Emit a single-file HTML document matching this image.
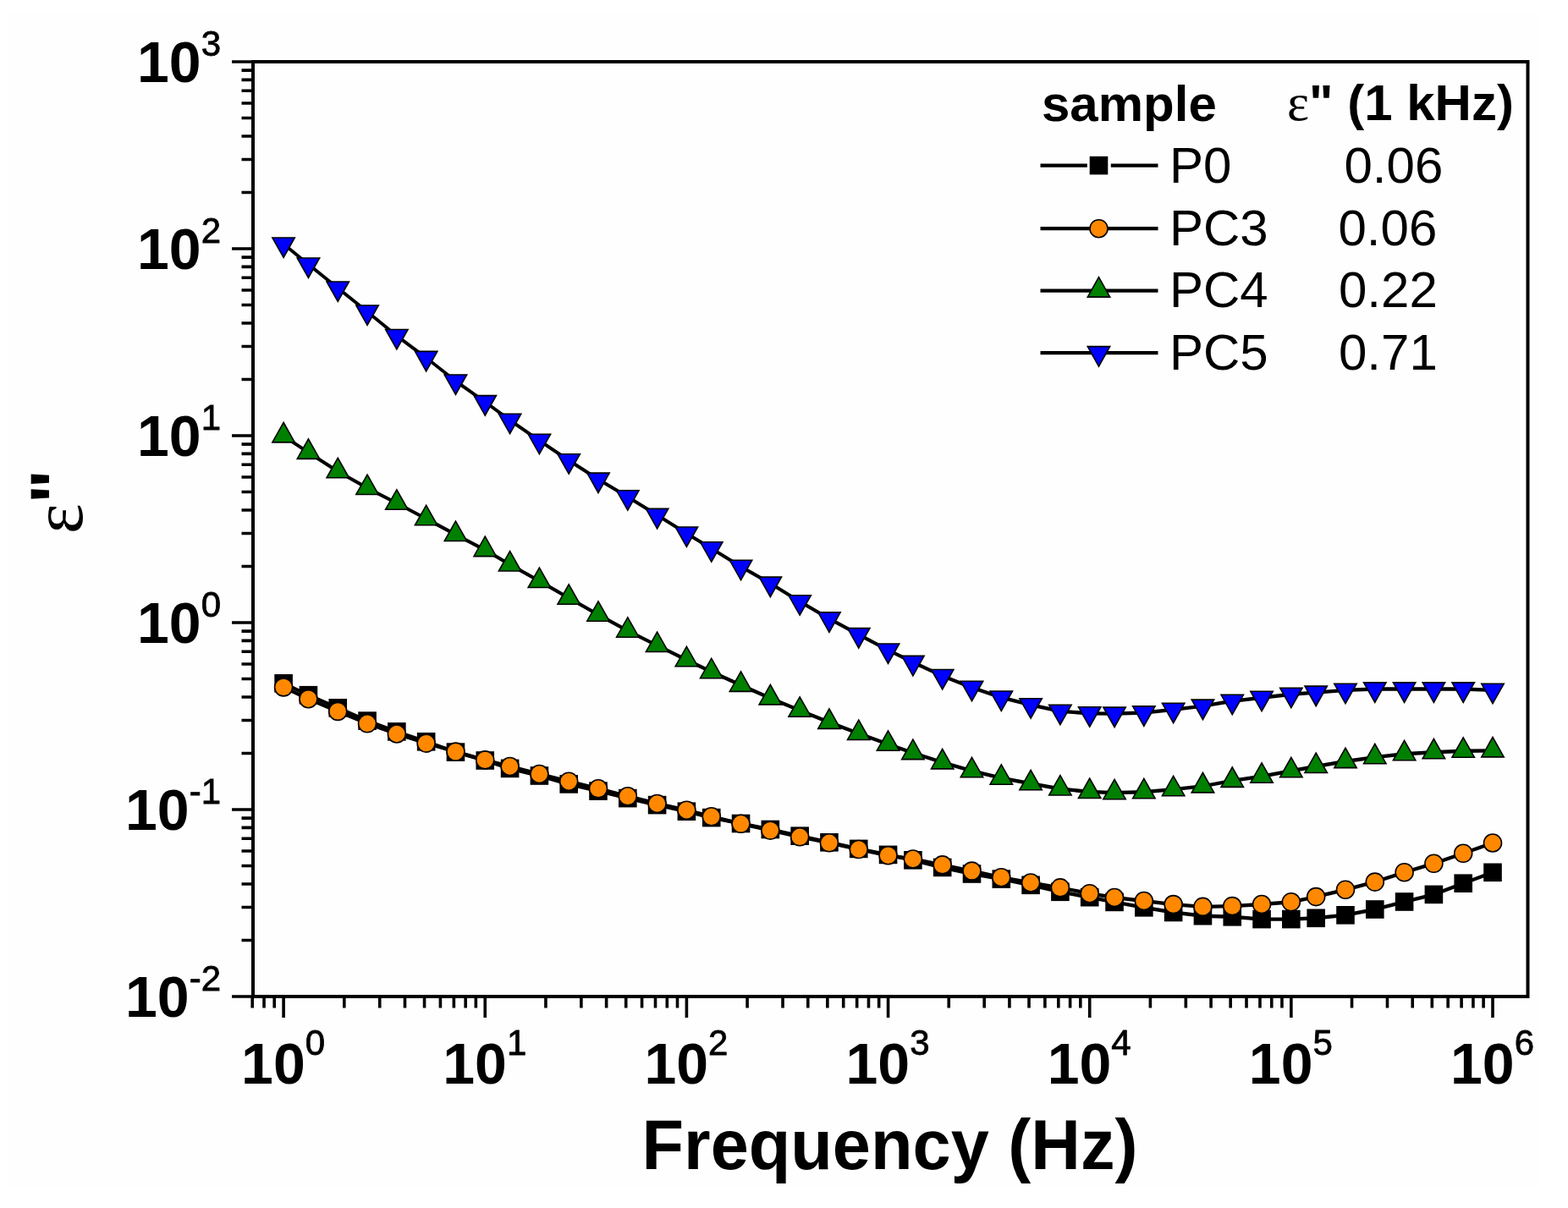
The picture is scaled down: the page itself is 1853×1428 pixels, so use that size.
<!DOCTYPE html>
<html><head><meta charset="utf-8"><title>Dielectric loss vs frequency</title>
<style>html,body{margin:0;padding:0;background:#fff;}body{width:1853px;height:1428px;overflow:hidden;}svg{display:block;}text{font-family:"Liberation Sans",Arial,sans-serif;fill:#000;}.b{font-weight:bold;}.sup{stroke:#000;stroke-width:0.8px;}.serif{font-family:"Liberation Serif","Times New Roman",serif;}</style>
</head><body>
<svg width="1853" height="1428" viewBox="0 0 1853 1428">
<rect x="0" y="0" width="1853" height="1428" fill="#fff"/>
<rect x="10" y="16" width="1807" height="1386" fill="#fefefe"/>
<g id="p0">
<path fill="#000" d="M335.1,805.49L364.45,819.39L364.45,824.01L335.1,810.11ZM364.45,819.4L399.25,834.5L399.25,839.1L364.45,824ZM399.25,834.5L434.05,849.8L434.05,854.4L399.25,839.1ZM434.05,849.83L468.85,862.63L468.85,867.17L434.05,854.37ZM468.85,862.64L503.65,874.54L503.65,879.06L468.85,867.16ZM503.65,874.53L538.45,886.83L538.45,891.37L503.65,879.07ZM538.45,886.86L573.25,896.76L573.25,901.24L538.45,891.34ZM573.25,896.75L602.6,906.15L602.6,910.65L573.25,901.25ZM602.6,906.17L637.4,914.77L637.4,919.23L602.6,910.63ZM637.4,914.76L672.2,924.66L672.2,929.14L637.4,919.24ZM672.2,924.67L707,932.87L707,937.33L672.2,929.13ZM707,932.87L741.8,941.37L741.8,945.83L707,937.33ZM741.8,941.37L776.6,949.37L776.6,953.83L741.8,945.83ZM776.6,949.37L811.4,956.97L811.4,961.43L776.6,953.83ZM811.4,956.97L840.75,964.37L840.75,968.83L811.4,961.43ZM840.75,964.38L875.55,971.28L875.55,975.72L840.75,968.82ZM875.55,971.28L910.35,978.28L910.35,982.72L875.55,975.72ZM910.35,978.27L945.15,985.97L945.15,990.43L910.35,982.73ZM945.15,985.97L979.95,993.57L979.95,998.03L945.15,990.43ZM979.95,993.57L1014.75,1001.17L1014.75,1005.63L979.95,998.03ZM1014.75,1001.18L1049.55,1008.18L1049.55,1012.62L1014.75,1005.62ZM1049.55,1008.17L1078.9,1014.57L1078.9,1019.03L1049.55,1012.63ZM1078.9,1014.57L1113.7,1023.17L1113.7,1027.63L1078.9,1019.03ZM1113.7,1023.17L1148.5,1030.77L1148.5,1035.23L1113.7,1027.63ZM1148.5,1030.78L1183.3,1036.88L1183.3,1041.32L1148.5,1035.22ZM1183.3,1036.88L1218.1,1044.08L1218.1,1048.52L1183.3,1041.32ZM1218.1,1044.07L1252.9,1052.07L1252.9,1056.53L1218.1,1048.53ZM1252.9,1052.08L1287.7,1058.48L1287.7,1062.92L1252.9,1056.52ZM1287.7,1058.48L1317.05,1064.18L1317.05,1068.62L1287.7,1062.92ZM1317.05,1064.18L1351.85,1070.58L1351.85,1075.02L1317.05,1068.62ZM1351.85,1070.59L1386.65,1076.29L1386.65,1080.71L1351.85,1075.01ZM1386.65,1076.29L1421.45,1080.49L1421.45,1084.91L1386.65,1080.71ZM1421.45,1080.5L1456.25,1081.6L1456.25,1086L1421.45,1084.9ZM1456.25,1081.6L1491.05,1084.4L1491.05,1088.8L1456.25,1086ZM1491.05,1084.4L1525.85,1084.4L1525.85,1088.8L1491.05,1088.8ZM1525.85,1084.4L1555.2,1083.1L1555.2,1087.5L1525.85,1088.8ZM1555.2,1083.09L1590,1079.59L1590,1084.01L1555.2,1087.51ZM1590,1079.58L1624.8,1072.78L1624.8,1077.22L1590,1084.02ZM1624.8,1072.76L1659.6,1063.76L1659.6,1068.24L1624.8,1077.24ZM1659.6,1063.77L1694.4,1055.17L1694.4,1059.63L1659.6,1068.23ZM1694.4,1055.12L1729.2,1041.92L1729.2,1046.48L1694.4,1059.68ZM1729.2,1041.93L1764,1029.03L1764,1033.57L1729.2,1046.47Z"/>
<rect x="325.1" y="797.8" width="20" height="20" fill="#000" stroke="#000" stroke-width="1.6"/>
<rect x="354.45" y="811.7" width="20" height="20" fill="#000" stroke="#000" stroke-width="1.6"/>
<rect x="389.25" y="826.8" width="20" height="20" fill="#000" stroke="#000" stroke-width="1.6"/>
<rect x="424.05" y="842.1" width="20" height="20" fill="#000" stroke="#000" stroke-width="1.6"/>
<rect x="458.85" y="854.9" width="20" height="20" fill="#000" stroke="#000" stroke-width="1.6"/>
<rect x="493.65" y="866.8" width="20" height="20" fill="#000" stroke="#000" stroke-width="1.6"/>
<rect x="528.45" y="879.1" width="20" height="20" fill="#000" stroke="#000" stroke-width="1.6"/>
<rect x="563.25" y="889" width="20" height="20" fill="#000" stroke="#000" stroke-width="1.6"/>
<rect x="592.6" y="898.4" width="20" height="20" fill="#000" stroke="#000" stroke-width="1.6"/>
<rect x="627.4" y="907" width="20" height="20" fill="#000" stroke="#000" stroke-width="1.6"/>
<rect x="662.2" y="916.9" width="20" height="20" fill="#000" stroke="#000" stroke-width="1.6"/>
<rect x="697" y="925.1" width="20" height="20" fill="#000" stroke="#000" stroke-width="1.6"/>
<rect x="731.8" y="933.6" width="20" height="20" fill="#000" stroke="#000" stroke-width="1.6"/>
<rect x="766.6" y="941.6" width="20" height="20" fill="#000" stroke="#000" stroke-width="1.6"/>
<rect x="801.4" y="949.2" width="20" height="20" fill="#000" stroke="#000" stroke-width="1.6"/>
<rect x="830.75" y="956.6" width="20" height="20" fill="#000" stroke="#000" stroke-width="1.6"/>
<rect x="865.55" y="963.5" width="20" height="20" fill="#000" stroke="#000" stroke-width="1.6"/>
<rect x="900.35" y="970.5" width="20" height="20" fill="#000" stroke="#000" stroke-width="1.6"/>
<rect x="935.15" y="978.2" width="20" height="20" fill="#000" stroke="#000" stroke-width="1.6"/>
<rect x="969.95" y="985.8" width="20" height="20" fill="#000" stroke="#000" stroke-width="1.6"/>
<rect x="1004.75" y="993.4" width="20" height="20" fill="#000" stroke="#000" stroke-width="1.6"/>
<rect x="1039.55" y="1000.4" width="20" height="20" fill="#000" stroke="#000" stroke-width="1.6"/>
<rect x="1068.9" y="1006.8" width="20" height="20" fill="#000" stroke="#000" stroke-width="1.6"/>
<rect x="1103.7" y="1015.4" width="20" height="20" fill="#000" stroke="#000" stroke-width="1.6"/>
<rect x="1138.5" y="1023" width="20" height="20" fill="#000" stroke="#000" stroke-width="1.6"/>
<rect x="1173.3" y="1029.1" width="20" height="20" fill="#000" stroke="#000" stroke-width="1.6"/>
<rect x="1208.1" y="1036.3" width="20" height="20" fill="#000" stroke="#000" stroke-width="1.6"/>
<rect x="1242.9" y="1044.3" width="20" height="20" fill="#000" stroke="#000" stroke-width="1.6"/>
<rect x="1277.7" y="1050.7" width="20" height="20" fill="#000" stroke="#000" stroke-width="1.6"/>
<rect x="1307.05" y="1056.4" width="20" height="20" fill="#000" stroke="#000" stroke-width="1.6"/>
<rect x="1341.85" y="1062.8" width="20" height="20" fill="#000" stroke="#000" stroke-width="1.6"/>
<rect x="1376.65" y="1068.5" width="20" height="20" fill="#000" stroke="#000" stroke-width="1.6"/>
<rect x="1411.45" y="1072.7" width="20" height="20" fill="#000" stroke="#000" stroke-width="1.6"/>
<rect x="1446.25" y="1073.8" width="20" height="20" fill="#000" stroke="#000" stroke-width="1.6"/>
<rect x="1481.05" y="1076.6" width="20" height="20" fill="#000" stroke="#000" stroke-width="1.6"/>
<rect x="1515.85" y="1076.6" width="20" height="20" fill="#000" stroke="#000" stroke-width="1.6"/>
<rect x="1545.2" y="1075.3" width="20" height="20" fill="#000" stroke="#000" stroke-width="1.6"/>
<rect x="1580" y="1071.8" width="20" height="20" fill="#000" stroke="#000" stroke-width="1.6"/>
<rect x="1614.8" y="1065" width="20" height="20" fill="#000" stroke="#000" stroke-width="1.6"/>
<rect x="1649.6" y="1056" width="20" height="20" fill="#000" stroke="#000" stroke-width="1.6"/>
<rect x="1684.4" y="1047.4" width="20" height="20" fill="#000" stroke="#000" stroke-width="1.6"/>
<rect x="1719.2" y="1034.2" width="20" height="20" fill="#000" stroke="#000" stroke-width="1.6"/>
<rect x="1754" y="1021.3" width="20" height="20" fill="#000" stroke="#000" stroke-width="1.6"/>
</g>
<g id="pc3">
<path fill="#000" d="M335.1,810.09L364.45,823.89L364.45,828.51L335.1,814.71ZM364.45,823.91L399.25,838.61L399.25,843.19L364.45,828.49ZM399.25,838.61L434.05,853.01L434.05,857.59L399.25,843.19ZM434.05,853.04L468.85,865.24L468.85,869.76L434.05,857.56ZM468.85,865.25L503.65,876.35L503.65,880.85L468.85,869.75ZM503.65,876.36L538.45,886.36L538.45,890.84L503.65,880.84ZM538.45,886.36L573.25,896.16L573.25,900.64L538.45,890.84ZM573.25,896.16L602.6,903.76L602.6,908.24L573.25,900.64ZM602.6,903.76L637.4,912.76L637.4,917.24L602.6,908.24ZM637.4,912.77L672.2,921.47L672.2,925.93L637.4,917.23ZM672.2,921.47L707,930.07L707,934.53L672.2,925.93ZM707,930.06L741.8,939.06L741.8,943.54L707,934.54ZM741.8,939.07L776.6,947.77L776.6,952.23L741.8,943.53ZM776.6,947.77L811.4,955.47L811.4,959.93L776.6,952.23ZM811.4,955.46L840.75,963.06L840.75,967.54L811.4,959.94ZM840.75,963.07L875.55,971.57L875.55,976.03L840.75,967.53ZM875.55,971.57L910.35,979.37L910.35,983.83L875.55,976.03ZM910.35,979.37L945.15,987.07L945.15,991.53L910.35,983.83ZM945.15,987.08L979.95,994.08L979.95,998.52L945.15,991.52ZM979.95,994.07L1014.75,1001.77L1014.75,1006.23L979.95,998.53ZM1014.75,1001.78L1049.55,1008.98L1049.55,1013.42L1014.75,1006.22ZM1049.55,1008.99L1078.9,1013.29L1078.9,1017.71L1049.55,1013.41ZM1078.9,1013.28L1113.7,1020.18L1113.7,1024.62L1078.9,1017.72ZM1113.7,1020.18L1148.5,1027.38L1148.5,1031.82L1113.7,1024.62ZM1148.5,1027.37L1183.3,1034.97L1183.3,1039.43L1148.5,1031.83ZM1183.3,1034.98L1218.1,1041.28L1218.1,1045.72L1183.3,1039.42ZM1218.1,1041.28L1252.9,1047.18L1252.9,1051.62L1218.1,1045.72ZM1252.9,1047.18L1287.7,1053.98L1287.7,1058.42L1252.9,1051.62ZM1287.7,1053.99L1317.05,1058.79L1317.05,1063.21L1287.7,1058.41ZM1317.05,1058.79L1351.85,1062.79L1351.85,1067.21L1317.05,1063.21ZM1351.85,1062.79L1386.65,1066.89L1386.65,1071.31L1351.85,1067.21ZM1386.65,1066.9L1421.45,1069.7L1421.45,1074.1L1386.65,1071.3ZM1421.45,1069.7L1456.25,1068.9L1456.25,1073.3L1421.45,1074.1ZM1456.25,1068.9L1491.05,1066.8L1491.05,1071.2L1456.25,1073.3ZM1491.05,1066.8L1525.85,1064.1L1525.85,1068.5L1491.05,1071.2ZM1525.85,1064.08L1555.2,1057.88L1555.2,1062.32L1525.85,1068.52ZM1555.2,1057.87L1590,1049.47L1590,1053.93L1555.2,1062.33ZM1590,1049.46L1624.8,1040.36L1624.8,1044.84L1590,1053.94ZM1624.8,1040.34L1659.6,1028.94L1659.6,1033.46L1624.8,1044.86ZM1659.6,1028.95L1694.4,1018.55L1694.4,1023.05L1659.6,1033.45ZM1694.4,1018.54L1729.2,1006.54L1729.2,1011.06L1694.4,1023.06ZM1729.2,1006.53L1764,994.23L1764,998.77L1729.2,1011.07Z"/>
<circle cx="335.1" cy="812.4" r="10.5" fill="#ff8800" stroke="#000" stroke-width="1.6"/>
<circle cx="364.45" cy="826.2" r="10.5" fill="#ff8800" stroke="#000" stroke-width="1.6"/>
<circle cx="399.25" cy="840.9" r="10.5" fill="#ff8800" stroke="#000" stroke-width="1.6"/>
<circle cx="434.05" cy="855.3" r="10.5" fill="#ff8800" stroke="#000" stroke-width="1.6"/>
<circle cx="468.85" cy="867.5" r="10.5" fill="#ff8800" stroke="#000" stroke-width="1.6"/>
<circle cx="503.65" cy="878.6" r="10.5" fill="#ff8800" stroke="#000" stroke-width="1.6"/>
<circle cx="538.45" cy="888.6" r="10.5" fill="#ff8800" stroke="#000" stroke-width="1.6"/>
<circle cx="573.25" cy="898.4" r="10.5" fill="#ff8800" stroke="#000" stroke-width="1.6"/>
<circle cx="602.6" cy="906" r="10.5" fill="#ff8800" stroke="#000" stroke-width="1.6"/>
<circle cx="637.4" cy="915" r="10.5" fill="#ff8800" stroke="#000" stroke-width="1.6"/>
<circle cx="672.2" cy="923.7" r="10.5" fill="#ff8800" stroke="#000" stroke-width="1.6"/>
<circle cx="707" cy="932.3" r="10.5" fill="#ff8800" stroke="#000" stroke-width="1.6"/>
<circle cx="741.8" cy="941.3" r="10.5" fill="#ff8800" stroke="#000" stroke-width="1.6"/>
<circle cx="776.6" cy="950" r="10.5" fill="#ff8800" stroke="#000" stroke-width="1.6"/>
<circle cx="811.4" cy="957.7" r="10.5" fill="#ff8800" stroke="#000" stroke-width="1.6"/>
<circle cx="840.75" cy="965.3" r="10.5" fill="#ff8800" stroke="#000" stroke-width="1.6"/>
<circle cx="875.55" cy="973.8" r="10.5" fill="#ff8800" stroke="#000" stroke-width="1.6"/>
<circle cx="910.35" cy="981.6" r="10.5" fill="#ff8800" stroke="#000" stroke-width="1.6"/>
<circle cx="945.15" cy="989.3" r="10.5" fill="#ff8800" stroke="#000" stroke-width="1.6"/>
<circle cx="979.95" cy="996.3" r="10.5" fill="#ff8800" stroke="#000" stroke-width="1.6"/>
<circle cx="1014.75" cy="1004" r="10.5" fill="#ff8800" stroke="#000" stroke-width="1.6"/>
<circle cx="1049.55" cy="1011.2" r="10.5" fill="#ff8800" stroke="#000" stroke-width="1.6"/>
<circle cx="1078.9" cy="1015.5" r="10.5" fill="#ff8800" stroke="#000" stroke-width="1.6"/>
<circle cx="1113.7" cy="1022.4" r="10.5" fill="#ff8800" stroke="#000" stroke-width="1.6"/>
<circle cx="1148.5" cy="1029.6" r="10.5" fill="#ff8800" stroke="#000" stroke-width="1.6"/>
<circle cx="1183.3" cy="1037.2" r="10.5" fill="#ff8800" stroke="#000" stroke-width="1.6"/>
<circle cx="1218.1" cy="1043.5" r="10.5" fill="#ff8800" stroke="#000" stroke-width="1.6"/>
<circle cx="1252.9" cy="1049.4" r="10.5" fill="#ff8800" stroke="#000" stroke-width="1.6"/>
<circle cx="1287.7" cy="1056.2" r="10.5" fill="#ff8800" stroke="#000" stroke-width="1.6"/>
<circle cx="1317.05" cy="1061" r="10.5" fill="#ff8800" stroke="#000" stroke-width="1.6"/>
<circle cx="1351.85" cy="1065" r="10.5" fill="#ff8800" stroke="#000" stroke-width="1.6"/>
<circle cx="1386.65" cy="1069.1" r="10.5" fill="#ff8800" stroke="#000" stroke-width="1.6"/>
<circle cx="1421.45" cy="1071.9" r="10.5" fill="#ff8800" stroke="#000" stroke-width="1.6"/>
<circle cx="1456.25" cy="1071.1" r="10.5" fill="#ff8800" stroke="#000" stroke-width="1.6"/>
<circle cx="1491.05" cy="1069" r="10.5" fill="#ff8800" stroke="#000" stroke-width="1.6"/>
<circle cx="1525.85" cy="1066.3" r="10.5" fill="#ff8800" stroke="#000" stroke-width="1.6"/>
<circle cx="1555.2" cy="1060.1" r="10.5" fill="#ff8800" stroke="#000" stroke-width="1.6"/>
<circle cx="1590" cy="1051.7" r="10.5" fill="#ff8800" stroke="#000" stroke-width="1.6"/>
<circle cx="1624.8" cy="1042.6" r="10.5" fill="#ff8800" stroke="#000" stroke-width="1.6"/>
<circle cx="1659.6" cy="1031.2" r="10.5" fill="#ff8800" stroke="#000" stroke-width="1.6"/>
<circle cx="1694.4" cy="1020.8" r="10.5" fill="#ff8800" stroke="#000" stroke-width="1.6"/>
<circle cx="1729.2" cy="1008.8" r="10.5" fill="#ff8800" stroke="#000" stroke-width="1.6"/>
<circle cx="1764" cy="996.5" r="10.5" fill="#ff8800" stroke="#000" stroke-width="1.6"/>
</g>
<g id="pc4">
<path fill="#000" d="M335.1,512.96L364.45,532.46L364.45,537.28L335.1,517.78ZM364.45,532.47L399.25,554.87L399.25,559.67L364.45,537.27ZM399.25,554.91L434.05,574.61L434.05,579.32L399.25,559.62ZM434.05,574.64L468.85,592.44L468.85,597.1L434.05,579.3ZM468.85,592.43L503.65,610.93L503.65,615.61L468.85,597.11ZM503.65,610.92L538.45,629.62L538.45,634.31L503.65,615.61ZM538.45,629.63L573.25,647.73L573.25,652.4L538.45,634.3ZM573.25,647.69L602.6,665.09L602.6,669.84L573.25,652.44ZM602.6,665.11L637.4,684.61L637.4,689.32L602.6,669.82ZM637.4,684.61L672.2,704.41L672.2,709.13L637.4,689.33ZM672.2,704.41L707,724.31L707,729.03L672.2,709.13ZM707,724.32L741.8,743.32L741.8,748.01L707,729.01ZM741.8,743.34L776.6,760.64L776.6,765.29L741.8,747.99ZM776.6,760.64L811.4,777.84L811.4,782.49L776.6,765.29ZM811.4,777.85L840.75,791.85L840.75,796.48L811.4,782.48ZM840.75,791.86L875.55,807.56L875.55,812.17L840.75,796.47ZM875.55,807.56L910.35,823.06L910.35,827.67L875.55,812.17ZM910.35,823.08L945.15,837.38L945.15,841.95L910.35,827.65ZM945.15,837.38L979.95,851.58L979.95,856.15L945.15,841.95ZM979.95,851.59L1014.75,864.69L1014.75,869.24L979.95,856.14ZM1014.75,864.7L1049.55,877.5L1049.55,882.04L1014.75,869.24ZM1049.55,877.5L1078.9,887.8L1078.9,892.33L1049.55,882.03ZM1078.9,887.81L1113.7,899.11L1113.7,903.62L1078.9,892.32ZM1113.7,899.12L1148.5,908.92L1148.5,913.41L1113.7,903.61ZM1148.5,908.93L1183.3,917.43L1183.3,921.9L1148.5,913.4ZM1183.3,917.45L1218.1,924.05L1218.1,928.49L1183.3,921.89ZM1218.1,924.05L1252.9,930.25L1252.9,934.68L1218.1,928.48ZM1252.9,930.26L1287.7,933.76L1287.7,938.17L1252.9,934.67ZM1287.7,933.77L1317.05,934.97L1317.05,939.37L1287.7,938.17ZM1317.05,934.97L1351.85,934.07L1351.85,938.47L1317.05,939.37ZM1351.85,934.06L1386.65,930.96L1386.65,935.37L1351.85,938.47ZM1386.65,930.96L1421.45,927.16L1421.45,931.57L1386.65,935.37ZM1421.45,927.15L1456.25,920.65L1456.25,925.09L1421.45,931.59ZM1456.25,920.65L1491.05,915.55L1491.05,919.98L1456.25,925.08ZM1491.05,915.55L1525.85,909.05L1525.85,913.49L1491.05,919.99ZM1525.85,909.05L1555.2,903.75L1555.2,908.18L1525.85,913.48ZM1555.2,903.75L1590,897.85L1590,902.28L1555.2,908.18ZM1590,897.86L1624.8,892.96L1624.8,897.38L1590,902.28ZM1624.8,892.96L1659.6,889.06L1659.6,893.47L1624.8,897.37ZM1659.6,889.06L1694.4,887.06L1694.4,891.47L1659.6,893.47ZM1694.4,887.07L1729.2,885.57L1729.2,889.97L1694.4,891.47ZM1729.2,885.57L1764,885.17L1764,889.57L1729.2,889.97Z"/>
<path d="M321.9,522.9L348.3,522.9L335.1,499.5Z" fill="#008000" stroke="#000" stroke-width="1.6" stroke-linejoin="miter"/>
<path d="M351.25,542.4L377.65,542.4L364.45,519Z" fill="#008000" stroke="#000" stroke-width="1.6" stroke-linejoin="miter"/>
<path d="M386.05,564.8L412.45,564.8L399.25,541.4Z" fill="#008000" stroke="#000" stroke-width="1.6" stroke-linejoin="miter"/>
<path d="M420.85,584.5L447.25,584.5L434.05,561.1Z" fill="#008000" stroke="#000" stroke-width="1.6" stroke-linejoin="miter"/>
<path d="M455.65,602.3L482.05,602.3L468.85,578.9Z" fill="#008000" stroke="#000" stroke-width="1.6" stroke-linejoin="miter"/>
<path d="M490.45,620.8L516.85,620.8L503.65,597.4Z" fill="#008000" stroke="#000" stroke-width="1.6" stroke-linejoin="miter"/>
<path d="M525.25,639.5L551.65,639.5L538.45,616.1Z" fill="#008000" stroke="#000" stroke-width="1.6" stroke-linejoin="miter"/>
<path d="M560.05,657.6L586.45,657.6L573.25,634.2Z" fill="#008000" stroke="#000" stroke-width="1.6" stroke-linejoin="miter"/>
<path d="M589.4,675L615.8,675L602.6,651.6Z" fill="#008000" stroke="#000" stroke-width="1.6" stroke-linejoin="miter"/>
<path d="M624.2,694.5L650.6,694.5L637.4,671.1Z" fill="#008000" stroke="#000" stroke-width="1.6" stroke-linejoin="miter"/>
<path d="M659,714.3L685.4,714.3L672.2,690.9Z" fill="#008000" stroke="#000" stroke-width="1.6" stroke-linejoin="miter"/>
<path d="M693.8,734.2L720.2,734.2L707,710.8Z" fill="#008000" stroke="#000" stroke-width="1.6" stroke-linejoin="miter"/>
<path d="M728.6,753.2L755,753.2L741.8,729.8Z" fill="#008000" stroke="#000" stroke-width="1.6" stroke-linejoin="miter"/>
<path d="M763.4,770.5L789.8,770.5L776.6,747.1Z" fill="#008000" stroke="#000" stroke-width="1.6" stroke-linejoin="miter"/>
<path d="M798.2,787.7L824.6,787.7L811.4,764.3Z" fill="#008000" stroke="#000" stroke-width="1.6" stroke-linejoin="miter"/>
<path d="M827.55,801.7L853.95,801.7L840.75,778.3Z" fill="#008000" stroke="#000" stroke-width="1.6" stroke-linejoin="miter"/>
<path d="M862.35,817.4L888.75,817.4L875.55,794Z" fill="#008000" stroke="#000" stroke-width="1.6" stroke-linejoin="miter"/>
<path d="M897.15,832.9L923.55,832.9L910.35,809.5Z" fill="#008000" stroke="#000" stroke-width="1.6" stroke-linejoin="miter"/>
<path d="M931.95,847.2L958.35,847.2L945.15,823.8Z" fill="#008000" stroke="#000" stroke-width="1.6" stroke-linejoin="miter"/>
<path d="M966.75,861.4L993.15,861.4L979.95,838Z" fill="#008000" stroke="#000" stroke-width="1.6" stroke-linejoin="miter"/>
<path d="M1001.55,874.5L1027.95,874.5L1014.75,851.1Z" fill="#008000" stroke="#000" stroke-width="1.6" stroke-linejoin="miter"/>
<path d="M1036.35,887.3L1062.75,887.3L1049.55,863.9Z" fill="#008000" stroke="#000" stroke-width="1.6" stroke-linejoin="miter"/>
<path d="M1065.7,897.6L1092.1,897.6L1078.9,874.2Z" fill="#008000" stroke="#000" stroke-width="1.6" stroke-linejoin="miter"/>
<path d="M1100.5,908.9L1126.9,908.9L1113.7,885.5Z" fill="#008000" stroke="#000" stroke-width="1.6" stroke-linejoin="miter"/>
<path d="M1135.3,918.7L1161.7,918.7L1148.5,895.3Z" fill="#008000" stroke="#000" stroke-width="1.6" stroke-linejoin="miter"/>
<path d="M1170.1,927.2L1196.5,927.2L1183.3,903.8Z" fill="#008000" stroke="#000" stroke-width="1.6" stroke-linejoin="miter"/>
<path d="M1204.9,933.8L1231.3,933.8L1218.1,910.4Z" fill="#008000" stroke="#000" stroke-width="1.6" stroke-linejoin="miter"/>
<path d="M1239.7,940L1266.1,940L1252.9,916.6Z" fill="#008000" stroke="#000" stroke-width="1.6" stroke-linejoin="miter"/>
<path d="M1274.5,943.5L1300.9,943.5L1287.7,920.1Z" fill="#008000" stroke="#000" stroke-width="1.6" stroke-linejoin="miter"/>
<path d="M1303.85,944.7L1330.25,944.7L1317.05,921.3Z" fill="#008000" stroke="#000" stroke-width="1.6" stroke-linejoin="miter"/>
<path d="M1338.65,943.8L1365.05,943.8L1351.85,920.4Z" fill="#008000" stroke="#000" stroke-width="1.6" stroke-linejoin="miter"/>
<path d="M1373.45,940.7L1399.85,940.7L1386.65,917.3Z" fill="#008000" stroke="#000" stroke-width="1.6" stroke-linejoin="miter"/>
<path d="M1408.25,936.9L1434.65,936.9L1421.45,913.5Z" fill="#008000" stroke="#000" stroke-width="1.6" stroke-linejoin="miter"/>
<path d="M1443.05,930.4L1469.45,930.4L1456.25,907Z" fill="#008000" stroke="#000" stroke-width="1.6" stroke-linejoin="miter"/>
<path d="M1477.85,925.3L1504.25,925.3L1491.05,901.9Z" fill="#008000" stroke="#000" stroke-width="1.6" stroke-linejoin="miter"/>
<path d="M1512.65,918.8L1539.05,918.8L1525.85,895.4Z" fill="#008000" stroke="#000" stroke-width="1.6" stroke-linejoin="miter"/>
<path d="M1542,913.5L1568.4,913.5L1555.2,890.1Z" fill="#008000" stroke="#000" stroke-width="1.6" stroke-linejoin="miter"/>
<path d="M1576.8,907.6L1603.2,907.6L1590,884.2Z" fill="#008000" stroke="#000" stroke-width="1.6" stroke-linejoin="miter"/>
<path d="M1611.6,902.7L1638,902.7L1624.8,879.3Z" fill="#008000" stroke="#000" stroke-width="1.6" stroke-linejoin="miter"/>
<path d="M1646.4,898.8L1672.8,898.8L1659.6,875.4Z" fill="#008000" stroke="#000" stroke-width="1.6" stroke-linejoin="miter"/>
<path d="M1681.2,896.8L1707.6,896.8L1694.4,873.4Z" fill="#008000" stroke="#000" stroke-width="1.6" stroke-linejoin="miter"/>
<path d="M1716,895.3L1742.4,895.3L1729.2,871.9Z" fill="#008000" stroke="#000" stroke-width="1.6" stroke-linejoin="miter"/>
<path d="M1750.8,894.9L1777.2,894.9L1764,871.5Z" fill="#008000" stroke="#000" stroke-width="1.6" stroke-linejoin="miter"/>
</g>
<g id="pc5">
<path fill="#000" d="M335.1,286.03L364.45,310.03L364.45,315.03L335.1,291.03ZM364.45,310.04L399.25,338.04L399.25,343.03L364.45,315.03ZM399.25,338.04L434.05,366.04L434.05,371.03L399.25,343.03ZM434.05,366.03L468.85,394.53L468.85,399.53L434.05,371.03ZM468.85,394.58L503.65,420.48L503.65,425.39L468.85,399.49ZM503.65,420.45L538.45,448.05L538.45,453.02L503.65,425.42ZM538.45,448.1L573.25,472.7L573.25,477.57L538.45,452.97ZM573.25,472.68L602.6,494.28L602.6,499.18L573.25,477.58ZM602.6,494.31L637.4,518.41L637.4,523.26L602.6,499.16ZM637.4,518.42L672.2,541.82L672.2,546.65L637.4,523.25ZM672.2,541.83L707,564.23L707,569.03L672.2,546.63ZM707,564.26L741.8,584.96L741.8,589.71L707,569.01ZM741.8,584.95L776.6,606.55L776.6,611.32L741.8,589.72ZM776.6,606.55L811.4,628.15L811.4,632.92L776.6,611.32ZM811.4,628.15L840.75,645.95L840.75,650.71L811.4,632.91ZM840.75,645.95L875.55,667.45L875.55,672.22L840.75,650.72ZM875.55,667.47L910.35,687.27L910.35,691.99L875.55,672.19ZM910.35,687.25L945.15,708.85L945.15,713.62L910.35,692.02ZM945.15,708.87L979.95,729.07L979.95,733.8L945.15,713.6ZM979.95,729.09L1014.75,747.79L1014.75,752.48L979.95,733.78ZM1014.75,747.79L1049.55,766.19L1049.55,770.87L1014.75,752.47ZM1049.55,766.21L1078.9,780.61L1078.9,785.26L1049.55,770.86ZM1078.9,780.62L1113.7,796.72L1113.7,801.34L1078.9,785.24ZM1113.7,796.75L1148.5,810.45L1148.5,815.01L1113.7,801.31ZM1148.5,810.47L1183.3,822.27L1183.3,826.79L1148.5,814.99ZM1183.3,822.3L1218.1,831.1L1218.1,835.57L1183.3,826.77ZM1218.1,831.11L1252.9,838.51L1252.9,842.96L1218.1,835.56ZM1252.9,838.53L1287.7,841.13L1287.7,845.54L1252.9,842.94ZM1287.7,841.13L1317.05,841.43L1317.05,845.83L1287.7,845.53ZM1317.05,841.43L1351.85,840.23L1351.85,844.63L1317.05,845.83ZM1351.85,840.23L1386.65,836.63L1386.65,841.04L1351.85,844.64ZM1386.65,836.63L1421.45,832.43L1421.45,836.84L1386.65,841.04ZM1421.45,832.42L1456.25,826.62L1456.25,831.05L1421.45,836.85ZM1456.25,826.63L1491.05,822.53L1491.05,826.94L1456.25,831.04ZM1491.05,822.53L1525.85,818.53L1525.85,822.94L1491.05,826.94ZM1525.85,818.53L1555.2,816.43L1555.2,820.84L1525.85,822.94ZM1555.2,816.43L1590,813.63L1590,818.04L1555.2,820.84ZM1590,813.63L1624.8,812.23L1624.8,816.63L1590,818.03ZM1624.8,812.23L1659.6,812.23L1659.6,816.63L1624.8,816.63ZM1659.6,812.23L1694.4,812.23L1694.4,816.63L1659.6,816.63ZM1694.4,812.23L1729.2,812.23L1729.2,816.63L1694.4,816.63ZM1729.2,812.23L1764,813.63L1764,818.03L1729.2,816.63Z"/>
<path d="M321.9,281L348.3,281L335.1,304.4Z" fill="#0000ff" stroke="#000" stroke-width="1.6" stroke-linejoin="miter"/>
<path d="M351.25,305L377.65,305L364.45,328.4Z" fill="#0000ff" stroke="#000" stroke-width="1.6" stroke-linejoin="miter"/>
<path d="M386.05,333L412.45,333L399.25,356.4Z" fill="#0000ff" stroke="#000" stroke-width="1.6" stroke-linejoin="miter"/>
<path d="M420.85,361L447.25,361L434.05,384.4Z" fill="#0000ff" stroke="#000" stroke-width="1.6" stroke-linejoin="miter"/>
<path d="M455.65,389.5L482.05,389.5L468.85,412.9Z" fill="#0000ff" stroke="#000" stroke-width="1.6" stroke-linejoin="miter"/>
<path d="M490.45,415.4L516.85,415.4L503.65,438.8Z" fill="#0000ff" stroke="#000" stroke-width="1.6" stroke-linejoin="miter"/>
<path d="M525.25,443L551.65,443L538.45,466.4Z" fill="#0000ff" stroke="#000" stroke-width="1.6" stroke-linejoin="miter"/>
<path d="M560.05,467.6L586.45,467.6L573.25,491Z" fill="#0000ff" stroke="#000" stroke-width="1.6" stroke-linejoin="miter"/>
<path d="M589.4,489.2L615.8,489.2L602.6,512.6Z" fill="#0000ff" stroke="#000" stroke-width="1.6" stroke-linejoin="miter"/>
<path d="M624.2,513.3L650.6,513.3L637.4,536.7Z" fill="#0000ff" stroke="#000" stroke-width="1.6" stroke-linejoin="miter"/>
<path d="M659,536.7L685.4,536.7L672.2,560.1Z" fill="#0000ff" stroke="#000" stroke-width="1.6" stroke-linejoin="miter"/>
<path d="M693.8,559.1L720.2,559.1L707,582.5Z" fill="#0000ff" stroke="#000" stroke-width="1.6" stroke-linejoin="miter"/>
<path d="M728.6,579.8L755,579.8L741.8,603.2Z" fill="#0000ff" stroke="#000" stroke-width="1.6" stroke-linejoin="miter"/>
<path d="M763.4,601.4L789.8,601.4L776.6,624.8Z" fill="#0000ff" stroke="#000" stroke-width="1.6" stroke-linejoin="miter"/>
<path d="M798.2,623L824.6,623L811.4,646.4Z" fill="#0000ff" stroke="#000" stroke-width="1.6" stroke-linejoin="miter"/>
<path d="M827.55,640.8L853.95,640.8L840.75,664.2Z" fill="#0000ff" stroke="#000" stroke-width="1.6" stroke-linejoin="miter"/>
<path d="M862.35,662.3L888.75,662.3L875.55,685.7Z" fill="#0000ff" stroke="#000" stroke-width="1.6" stroke-linejoin="miter"/>
<path d="M897.15,682.1L923.55,682.1L910.35,705.5Z" fill="#0000ff" stroke="#000" stroke-width="1.6" stroke-linejoin="miter"/>
<path d="M931.95,703.7L958.35,703.7L945.15,727.1Z" fill="#0000ff" stroke="#000" stroke-width="1.6" stroke-linejoin="miter"/>
<path d="M966.75,723.9L993.15,723.9L979.95,747.3Z" fill="#0000ff" stroke="#000" stroke-width="1.6" stroke-linejoin="miter"/>
<path d="M1001.55,742.6L1027.95,742.6L1014.75,766Z" fill="#0000ff" stroke="#000" stroke-width="1.6" stroke-linejoin="miter"/>
<path d="M1036.35,761L1062.75,761L1049.55,784.4Z" fill="#0000ff" stroke="#000" stroke-width="1.6" stroke-linejoin="miter"/>
<path d="M1065.7,775.4L1092.1,775.4L1078.9,798.8Z" fill="#0000ff" stroke="#000" stroke-width="1.6" stroke-linejoin="miter"/>
<path d="M1100.5,791.5L1126.9,791.5L1113.7,814.9Z" fill="#0000ff" stroke="#000" stroke-width="1.6" stroke-linejoin="miter"/>
<path d="M1135.3,805.2L1161.7,805.2L1148.5,828.6Z" fill="#0000ff" stroke="#000" stroke-width="1.6" stroke-linejoin="miter"/>
<path d="M1170.1,817L1196.5,817L1183.3,840.4Z" fill="#0000ff" stroke="#000" stroke-width="1.6" stroke-linejoin="miter"/>
<path d="M1204.9,825.8L1231.3,825.8L1218.1,849.2Z" fill="#0000ff" stroke="#000" stroke-width="1.6" stroke-linejoin="miter"/>
<path d="M1239.7,833.2L1266.1,833.2L1252.9,856.6Z" fill="#0000ff" stroke="#000" stroke-width="1.6" stroke-linejoin="miter"/>
<path d="M1274.5,835.8L1300.9,835.8L1287.7,859.2Z" fill="#0000ff" stroke="#000" stroke-width="1.6" stroke-linejoin="miter"/>
<path d="M1303.85,836.1L1330.25,836.1L1317.05,859.5Z" fill="#0000ff" stroke="#000" stroke-width="1.6" stroke-linejoin="miter"/>
<path d="M1338.65,834.9L1365.05,834.9L1351.85,858.3Z" fill="#0000ff" stroke="#000" stroke-width="1.6" stroke-linejoin="miter"/>
<path d="M1373.45,831.3L1399.85,831.3L1386.65,854.7Z" fill="#0000ff" stroke="#000" stroke-width="1.6" stroke-linejoin="miter"/>
<path d="M1408.25,827.1L1434.65,827.1L1421.45,850.5Z" fill="#0000ff" stroke="#000" stroke-width="1.6" stroke-linejoin="miter"/>
<path d="M1443.05,821.3L1469.45,821.3L1456.25,844.7Z" fill="#0000ff" stroke="#000" stroke-width="1.6" stroke-linejoin="miter"/>
<path d="M1477.85,817.2L1504.25,817.2L1491.05,840.6Z" fill="#0000ff" stroke="#000" stroke-width="1.6" stroke-linejoin="miter"/>
<path d="M1512.65,813.2L1539.05,813.2L1525.85,836.6Z" fill="#0000ff" stroke="#000" stroke-width="1.6" stroke-linejoin="miter"/>
<path d="M1542,811.1L1568.4,811.1L1555.2,834.5Z" fill="#0000ff" stroke="#000" stroke-width="1.6" stroke-linejoin="miter"/>
<path d="M1576.8,808.3L1603.2,808.3L1590,831.7Z" fill="#0000ff" stroke="#000" stroke-width="1.6" stroke-linejoin="miter"/>
<path d="M1611.6,806.9L1638,806.9L1624.8,830.3Z" fill="#0000ff" stroke="#000" stroke-width="1.6" stroke-linejoin="miter"/>
<path d="M1646.4,806.9L1672.8,806.9L1659.6,830.3Z" fill="#0000ff" stroke="#000" stroke-width="1.6" stroke-linejoin="miter"/>
<path d="M1681.2,806.9L1707.6,806.9L1694.4,830.3Z" fill="#0000ff" stroke="#000" stroke-width="1.6" stroke-linejoin="miter"/>
<path d="M1716,806.9L1742.4,806.9L1729.2,830.3Z" fill="#0000ff" stroke="#000" stroke-width="1.6" stroke-linejoin="miter"/>
<path d="M1750.8,808.3L1777.2,808.3L1764,831.7Z" fill="#0000ff" stroke="#000" stroke-width="1.6" stroke-linejoin="miter"/>
</g>
<rect x="299" y="73" width="1506.5" height="1105" fill="none" stroke="#000" stroke-width="4"/>
<path d="M274,1178H299M285.5,1111.47H299M285.5,1072.56H299M285.5,1044.94H299M285.5,1023.53H299M285.5,1006.03H299M285.5,991.23H299M285.5,978.42H299M285.5,967.11H299M274,957H299M285.5,890.47H299M285.5,851.56H299M285.5,823.94H299M285.5,802.53H299M285.5,785.03H299M285.5,770.23H299M285.5,757.42H299M285.5,746.11H299M274,736H299M285.5,669.47H299M285.5,630.56H299M285.5,602.94H299M285.5,581.53H299M285.5,564.03H299M285.5,549.23H299M285.5,536.42H299M285.5,525.11H299M274,515H299M285.5,448.47H299M285.5,409.56H299M285.5,381.94H299M285.5,360.53H299M285.5,343.03H299M285.5,328.23H299M285.5,315.42H299M285.5,304.11H299M274,294H299M285.5,227.47H299M285.5,188.56H299M285.5,160.94H299M285.5,139.53H299M285.5,122.03H299M285.5,107.23H299M285.5,94.42H299M285.5,83.11H299M274,73H299M298.21,1178V1191.5M312.02,1178V1191.5M324.2,1178V1191.5M335.1,1178V1203M406.79,1178V1191.5M448.73,1178V1191.5M478.48,1178V1191.5M501.56,1178V1191.5M520.42,1178V1191.5M536.36,1178V1191.5M550.17,1178V1191.5M562.35,1178V1191.5M573.25,1178V1203M644.94,1178V1191.5M686.88,1178V1191.5M716.63,1178V1191.5M739.71,1178V1191.5M758.57,1178V1191.5M774.51,1178V1191.5M788.32,1178V1191.5M800.5,1178V1191.5M811.4,1178V1203M883.09,1178V1191.5M925.03,1178V1191.5M954.78,1178V1191.5M977.86,1178V1191.5M996.72,1178V1191.5M1012.66,1178V1191.5M1026.47,1178V1191.5M1038.65,1178V1191.5M1049.55,1178V1203M1121.24,1178V1191.5M1163.18,1178V1191.5M1192.93,1178V1191.5M1216.01,1178V1191.5M1234.87,1178V1191.5M1250.81,1178V1191.5M1264.62,1178V1191.5M1276.8,1178V1191.5M1287.7,1178V1203M1359.39,1178V1191.5M1401.33,1178V1191.5M1431.08,1178V1191.5M1454.16,1178V1191.5M1473.02,1178V1191.5M1488.96,1178V1191.5M1502.77,1178V1191.5M1514.95,1178V1191.5M1525.85,1178V1203M1597.54,1178V1191.5M1639.48,1178V1191.5M1669.23,1178V1191.5M1692.31,1178V1191.5M1711.17,1178V1191.5M1727.11,1178V1191.5M1740.92,1178V1191.5M1753.1,1178V1191.5M1764,1178V1203" stroke="#000" stroke-width="3.6" fill="none"/>
<text x="261" y="1202.2" text-anchor="end"><tspan class="b" font-size="68">10</tspan><tspan class="sup" font-size="42" dy="-31.5">-2</tspan></text>
<text x="261" y="981.2" text-anchor="end"><tspan class="b" font-size="68">10</tspan><tspan class="sup" font-size="42" dy="-31.5">-1</tspan></text>
<text x="261" y="760.2" text-anchor="end"><tspan class="b" font-size="68">10</tspan><tspan class="sup" font-size="42" dy="-31.5">0</tspan></text>
<text x="261" y="539.2" text-anchor="end"><tspan class="b" font-size="68">10</tspan><tspan class="sup" font-size="42" dy="-31.5">1</tspan></text>
<text x="261" y="318.2" text-anchor="end"><tspan class="b" font-size="68">10</tspan><tspan class="sup" font-size="42" dy="-31.5">2</tspan></text>
<text x="261" y="97.2" text-anchor="end"><tspan class="b" font-size="68">10</tspan><tspan class="sup" font-size="42" dy="-31.5">3</tspan></text>
<text x="334.6" y="1281" text-anchor="middle"><tspan class="b" font-size="68">10</tspan><tspan class="sup" font-size="42" dy="-34">0</tspan></text>
<text x="572.75" y="1281" text-anchor="middle"><tspan class="b" font-size="68">10</tspan><tspan class="sup" font-size="42" dy="-34">1</tspan></text>
<text x="810.9" y="1281" text-anchor="middle"><tspan class="b" font-size="68">10</tspan><tspan class="sup" font-size="42" dy="-34">2</tspan></text>
<text x="1049.05" y="1281" text-anchor="middle"><tspan class="b" font-size="68">10</tspan><tspan class="sup" font-size="42" dy="-34">3</tspan></text>
<text x="1287.2" y="1281" text-anchor="middle"><tspan class="b" font-size="68">10</tspan><tspan class="sup" font-size="42" dy="-34">4</tspan></text>
<text x="1525.35" y="1281" text-anchor="middle"><tspan class="b" font-size="68">10</tspan><tspan class="sup" font-size="42" dy="-34">5</tspan></text>
<text x="1763.5" y="1281" text-anchor="middle"><tspan class="b" font-size="68">10</tspan><tspan class="sup" font-size="42" dy="-34">6</tspan></text>
<text class="b" x="1051.5" y="1382" text-anchor="middle" font-size="83" textLength="586" lengthAdjust="spacingAndGlyphs">Frequency (Hz)</text>
<g transform="translate(97.2,631) rotate(-90)"><text x="0" y="0"><tspan class="serif" font-size="85">ε</tspan><tspan class="b" font-size="85" dy="-2.2">"</tspan></text></g>
<text class="b" x="1231" y="142.5" font-size="60">sample</text>
<text x="1521" y="142.3"><tspan class="serif" font-size="62">ε</tspan><tspan class="b" font-size="60">" (1 kHz)</tspan></text>
<path d="M1229.5,195.6H1284.8M1312.8,195.6H1368.5" stroke="#000" stroke-width="4.2" fill="none"/>
<rect x="1288.5" y="185.6" width="20" height="20" fill="#000" stroke="#000" stroke-width="1.6"/>
<text x="1382" y="215.7" font-size="60">P0</text>
<path d="M1229.5,270.2H1368.5" stroke="#000" stroke-width="4.2" fill="none"/>
<circle cx="1298.5" cy="270.2" r="10.5" fill="#ff8800" stroke="#000" stroke-width="1.6"/>
<text x="1382" y="290" font-size="60">PC3</text>
<path d="M1229.5,343.6H1368.5" stroke="#000" stroke-width="4.2" fill="none"/>
<path d="M1285.3,351.13L1311.7,351.13L1298.5,327.73Z" fill="#008000" stroke="#000" stroke-width="1.6" stroke-linejoin="miter"/>
<text x="1382" y="363.3" font-size="60">PC4</text>
<path d="M1229.5,417.2H1368.5" stroke="#000" stroke-width="4.2" fill="none"/>
<path d="M1285.3,409.67L1311.7,409.67L1298.5,433.07Z" fill="#0000ff" stroke="#000" stroke-width="1.6" stroke-linejoin="miter"/>
<text x="1382" y="436.9" font-size="60">PC5</text>
<text x="1588.5" y="215.7" font-size="60">0.06</text>
<text x="1581.5" y="290" font-size="60">0.06</text>
<text x="1582" y="363.3" font-size="60">0.22</text>
<text x="1582" y="436.9" font-size="60">0.71</text>
</svg>
</body></html>
